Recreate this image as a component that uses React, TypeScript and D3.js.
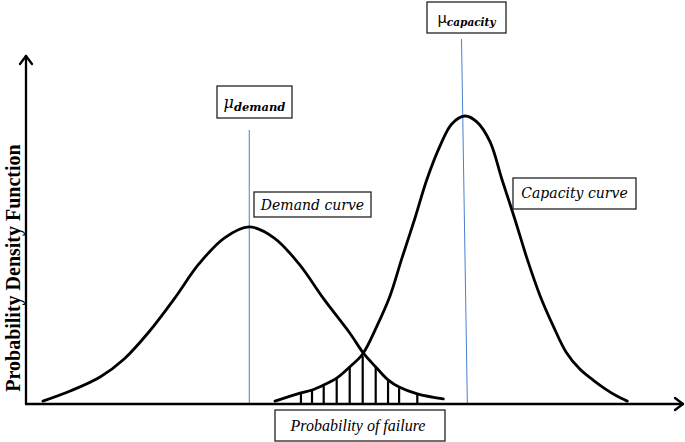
import React from 'react';
import * as d3 from 'd3';

// values (x: 0-100 along the axis, y: 0-100 density units)
const demandX = [2.6, 6.8, 11.4, 15.1, 18.9, 22.8, 26.6, 30.5, 34.3, 38.2, 42.0, 45.8, 49.7, 52.0, 53.8, 55.7, 57.4, 60.2, 64.2];
const demandY = [0.8, 3.6, 7.5, 12.5, 20.0, 29.2, 38.9, 46.1, 49.2, 46.1, 38.9, 29.2, 20.0, 13.9, 10.3, 6.7, 4.7, 2.8, 1.4];

const capacityX = [38.3, 42.3, 44.0, 45.8, 47.8, 49.8, 51.8, 54.0, 56.0, 57.8, 59.8, 61.7, 63.7, 65.5, 67.5, 69.4, 71.4, 73.2, 75.2, 77.1, 79.1, 81.1, 83.1, 85.2, 87.2, 89.1, 90.9, 92.5];
const capacityY = [0.8, 3.1, 3.9, 5.3, 7.2, 10.3, 13.9, 21.7, 30.0, 40.3, 51.4, 62.5, 71.7, 77.8, 80.0, 78.3, 72.8, 62.5, 51.4, 40.3, 30.0, 21.7, 14.4, 9.7, 6.7, 4.2, 2.2, 0.8];

const hatchX = [42.3, 44.0, 45.8, 47.8, 49.8, 51.8, 53.8, 55.7, 57.4, 60.2];
const hatchY = [3.1, 3.9, 5.0, 7.2, 10.3, 13.3, 10.3, 6.7, 4.4, 2.5];

const demandMean = 34.35;
const capacityMeanTop = 67.0;
const capacityMeanBottom = 67.9;

const width = 685;
const height = 442;
const blue = '#4a7fd0';

export default function App() {
    const xScale = d3.scaleLinear().domain([0, 100]).range([26, 676]);
    const yScale = d3.scaleLinear().domain([0, 100]).range([404, 44]);

    const lineGenerator = d3.line<[number, number]>()
        .x(d => xScale(d[0]))
        .y(d => yScale(d[1]))
        .curve(d3.curveCatmullRom.alpha(0.5));

    const demand = demandX.map((x, i) => [x, demandY[i]] as [number, number]);
    const capacity = capacityX.map((x, i) => [x, capacityY[i]] as [number, number]);

    const x0 = xScale.range()[0];
    const y0 = yScale(0);
    const xEnd = xScale.range()[1] + 7;
    const yEnd = 56;

    const boxStyle = { fill: 'white', stroke: '#222', strokeWidth: 1.3 };

    return (
        <div style={{ position: 'fixed', left: 0, top: 0 }}>
            <svg width={width} height={height} style={{ display: 'block', background: 'white' }}>
                {/* hatching under both curves */}
                <g stroke="black" strokeWidth={2.2}>
                    {hatchX.map((x, i) => (
                        <line key={i} x1={xScale(x)} x2={xScale(x)} y1={y0} y2={yScale(hatchY[i])} />
                    ))}
                </g>

                {/* mean lines */}
                <line x1={xScale(demandMean)} x2={xScale(demandMean)} y1={130} y2={y0} stroke={blue} strokeWidth={1} />
                <line x1={xScale(capacityMeanTop)} x2={xScale(capacityMeanBottom)} y1={39} y2={y0} stroke={blue} strokeWidth={1} />

                {/* curves */}
                <path d={lineGenerator(demand) || ''} fill="none" stroke="black" strokeWidth={2.8} strokeLinecap="round" />
                <path d={lineGenerator(capacity) || ''} fill="none" stroke="black" strokeWidth={2.8} strokeLinecap="round" />

                {/* axes */}
                <g stroke="black" strokeWidth={2.3} fill="none" strokeLinecap="round" strokeLinejoin="round">
                    <line x1={x0} y1={y0} x2={xEnd} y2={y0} />
                    <line x1={x0} y1={y0} x2={x0} y2={yEnd} />
                    <polyline points={`${xEnd - 8},${y0 - 6} ${xEnd},${y0} ${xEnd - 8},${y0 + 6}`} />
                    <polyline points={`${x0 - 6},${yEnd + 8} ${x0},${yEnd} ${x0 + 6},${yEnd + 8}`} />
                </g>

                <text
                    transform={`translate(20,268) rotate(-90)`}
                    textAnchor="middle"
                    fontFamily="'Liberation Serif', serif"
                    fontWeight="bold"
                    fontSize={20}
                    fill="black"
                >Probability Density Function</text>

                {/* μ demand */}
                <rect x={217} y={86} width={75} height={32} {...boxStyle} />
                <text x={254.5} y={108} textAnchor="middle" fontFamily="'DejaVu Serif', serif" fill="black">
                    <tspan fontStyle="italic" fontSize={16}>μ</tspan>
                    <tspan fontStyle="italic" fontWeight="bold" fontSize={11.5} dy={3}>demand</tspan>
                </text>

                {/* μ capacity */}
                <rect x={427} y={2} width={79} height={31} {...boxStyle} />
                <text x={466.5} y={23} textAnchor="middle" fill="black">
                    <tspan fontFamily="'Noto Sans', sans-serif" fontSize={15}>μ</tspan>
                    <tspan fontFamily="'DejaVu Serif', serif" fontStyle="italic" fontWeight="bold" fontSize={10.5} dy={3}>capacity</tspan>
                </text>

                {/* curve labels */}
                <rect x={254} y={192} width={117} height={25} {...boxStyle} />
                <text x={312.5} y={210} textAnchor="middle" fontFamily="'DejaVu Serif', serif" fontStyle="italic" fontSize={14} fill="black">Demand curve</text>

                <rect x={513} y={178} width={123} height={31} {...boxStyle} />
                <text x={574.5} y={198} textAnchor="middle" fontFamily="'DejaVu Serif', serif" fontStyle="italic" fontSize={14} fill="black">Capacity curve</text>

                <rect x={275} y={410} width={170} height={31} {...boxStyle} />
                <text x={358} y={431} textAnchor="middle" fontFamily="'Liberation Serif', serif" fontStyle="italic" fontSize={16} fill="black">Probability of failure</text>
            </svg>
        </div>
    );
}
